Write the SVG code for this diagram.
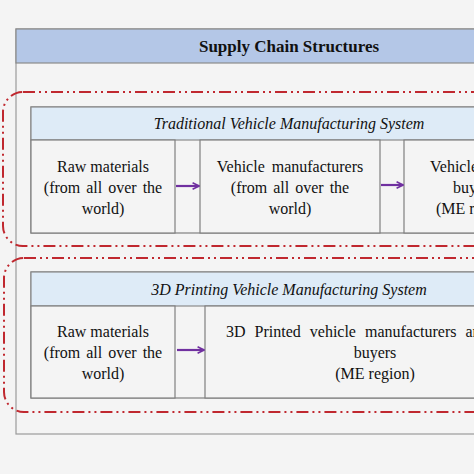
<svg xmlns="http://www.w3.org/2000/svg" width="474" height="474" viewBox="0 0 474 474">
<style>
.bg{fill:#f4f4f4}
.frame{fill:#f4f4f4;stroke:#9a9a9a;stroke-width:1.2}
.hdr{fill:#b4c7e7;stroke:#8a8a8a;stroke-width:1.2}
.sub{fill:#deebf7;stroke:#8a8a8a;stroke-width:1.2}
.box{fill:#f4f4f4;stroke:#7f7f7f;stroke-width:1.2}
.grp{fill:none;stroke:#c0282f;stroke-width:2;stroke-dasharray:12 4 2 4 2 4}
.t{font-family:"Liberation Serif","Times New Roman",serif;font-size:16px;fill:#111}
.ti{font-family:"Liberation Serif","Times New Roman",serif;font-size:16px;font-style:italic;fill:#111}
.tb{font-family:"Liberation Serif","Times New Roman",serif;font-size:17px;font-weight:bold;fill:#111}
.arr{stroke:#7030a0;stroke-width:2.2;fill:none}
</style>
<defs>
<marker id="ah" viewBox="0 0 10 10" refX="9" refY="5" markerWidth="8" markerHeight="8" markerUnits="userSpaceOnUse" orient="auto">
<path d="M1,1 L9,5 L1,9" fill="none" stroke="#7030a0" stroke-width="2"/>
</marker>
</defs>
<rect class="bg" x="0" y="0" width="474" height="474"/>
<g id="frame">
<rect class="frame" x="16" y="29" width="470" height="405"/>
<rect class="hdr" x="16" y="29" width="470" height="34"/>
<text class="tb" x="289" y="52" text-anchor="middle">Supply Chain Structures</text>
</g>
<g id="group-traditional">
<rect class="grp" x="3" y="92" width="500" height="154" rx="20" ry="20"/>
</g>
<g id="group-3d">
<rect class="grp" x="4" y="258" width="500" height="154" rx="20" ry="20"/>
</g>
<g id="panel-traditional">
<rect class="box" x="31" y="107" width="460" height="126"/>
<rect class="sub" x="31" y="107" width="460" height="33"/>
<text class="ti" x="289" y="129" text-anchor="middle">Traditional Vehicle Manufacturing System</text>
</g>
<g id="t-raw">
<rect class="box" x="31" y="140" width="144" height="93"/>
<text class="t" x="103" y="172" text-anchor="middle">Raw materials</text>
<text class="t" x="103" y="193" text-anchor="middle" word-spacing="2">(from all over the</text>
<text class="t" x="103" y="214" text-anchor="middle">world)</text>
</g>
<g id="t-manuf">
<rect class="box" x="200" y="140" width="180" height="93"/>
<text class="t" x="290" y="172" text-anchor="middle" word-spacing="3">Vehicle manufacturers</text>
<text class="t" x="290" y="193" text-anchor="middle" word-spacing="2">(from all over the</text>
<text class="t" x="290" y="214" text-anchor="middle">world)</text>
</g>
<g id="t-buyers">
<rect class="box" x="404" y="140" width="140" height="93"/>
<text class="t" x="430" y="172">Vehicle</text>
<text class="t" x="453" y="193">buyers</text>
<text class="t" x="436" y="214">(ME region)</text>
</g>
<g id="panel-3d">
<rect class="box" x="31" y="272" width="460" height="126"/>
<rect class="sub" x="31" y="272" width="460" height="34"/>
<text class="ti" x="289" y="295" text-anchor="middle">3D Printing Vehicle Manufacturing System</text>
</g>
<g id="d-raw">
<rect class="box" x="31" y="306" width="144" height="92"/>
<text class="t" x="103" y="337" text-anchor="middle">Raw materials</text>
<text class="t" x="103" y="358" text-anchor="middle" word-spacing="2">(from all over the</text>
<text class="t" x="103" y="379" text-anchor="middle">world)</text>
</g>
<g id="d-printed">
<rect class="box" x="205" y="306" width="340" height="92"/>
<text class="t" x="226" y="337" word-spacing="5">3D Printed vehicle manufacturers and</text>
<text class="t" x="375" y="358" text-anchor="middle">buyers</text>
<text class="t" x="375" y="379" text-anchor="middle">(ME region)</text>
</g>
<g id="connectors">
<line class="arr" x1="176" y1="186" x2="199" y2="186" marker-end="url(#ah)"/>
<line class="arr" x1="381" y1="185" x2="403" y2="185" marker-end="url(#ah)"/>
<line class="arr" x1="177" y1="350" x2="204" y2="350" marker-end="url(#ah)"/>
</g>
</svg>
